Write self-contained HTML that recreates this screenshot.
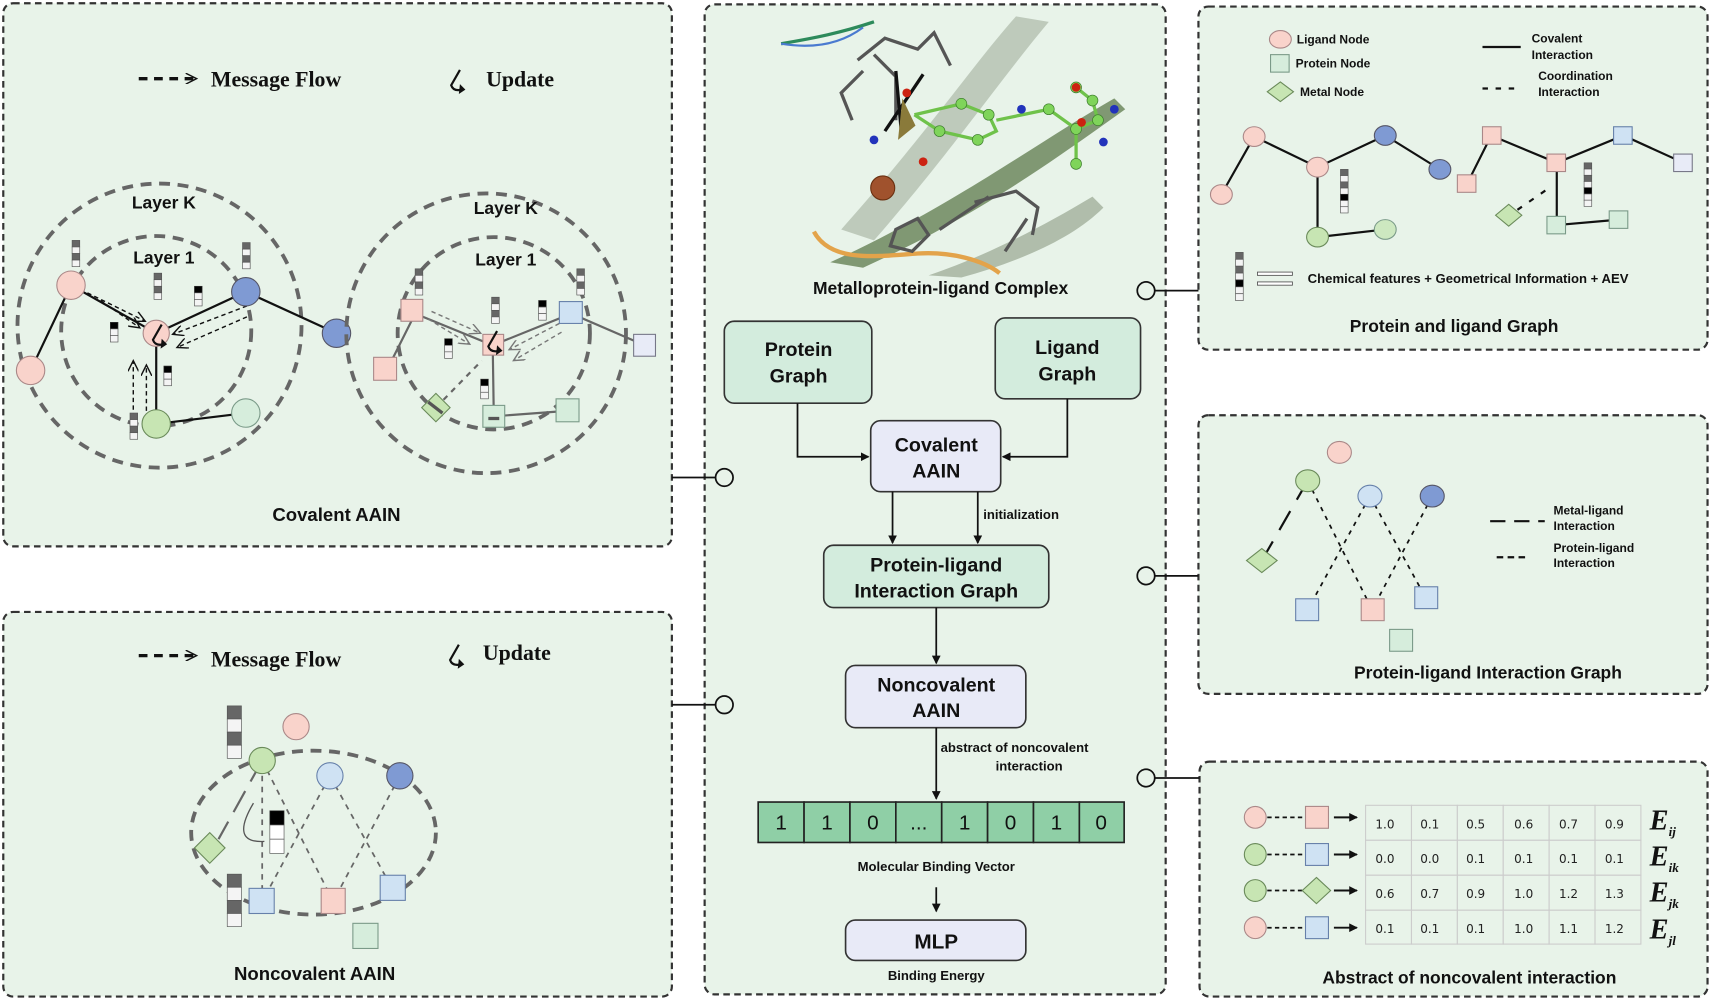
<!DOCTYPE html>
<html><head><meta charset="utf-8"><style>
html,body{margin:0;padding:0;background:#fff;}
svg{display:block;}
.pn{fill:#e8f3e9;stroke:#333;stroke-width:2;stroke-dasharray:6 4;}
.sans{font-family:"Liberation Sans",sans-serif;font-weight:bold;fill:#111;}
.serif{font-family:"Liberation Serif",serif;font-weight:bold;fill:#111;}
.box{stroke:#333;stroke-width:1.5;}
.e{stroke:#111;stroke-width:2;fill:none;}
.ge{stroke:#666;stroke-width:2;fill:none;}
.dc{stroke:#666;stroke-width:3.5;stroke-dasharray:10 7;fill:none;}
.pk{fill:#f9d3cb;stroke:#a88;stroke-width:1;}
.gr{fill:#c7e5b3;stroke:#6a8a5a;stroke-width:1;}
.bl{fill:#7f9ad3;stroke:#556;stroke-width:1;}
.lb{fill:#cfe2f3;stroke:#6680aa;stroke-width:1;}
.lg{fill:#d6eddc;stroke:#7a9a88;stroke-width:1;}
.lv{fill:#e8ebf7;stroke:#778;stroke-width:1;}
.fd{fill:#666;stroke:#555;stroke-width:.6;}
.fw{fill:#f4f4f4;stroke:#555;stroke-width:.6;}
.fk{fill:#000;stroke:#333;stroke-width:.6;}
.tc{fill:#e8f3e9;stroke:#ccc;stroke-width:1;}
.tt{font-family:"DejaVu Sans","Liberation Sans",sans-serif;font-size:11px;fill:#222;}
</style></head><body>
<svg width="1713" height="1002" viewBox="0 0 1568 917" preserveAspectRatio="none" xmlns="http://www.w3.org/2000/svg">
<defs>
<marker id="ah" markerWidth="8" markerHeight="8" refX="7" refY="4" orient="auto" markerUnits="userSpaceOnUse"><path d="M0,0 L8,4 L0,8 z" fill="#111"/></marker>
<marker id="oa" markerWidth="12" markerHeight="10" refX="10" refY="5" orient="auto" markerUnits="userSpaceOnUse"><path d="M0,0 L10,5 L0,10" fill="none" stroke="#111" stroke-width="1.3"/></marker>
<marker id="og" markerWidth="12" markerHeight="10" refX="10" refY="5" orient="auto" markerUnits="userSpaceOnUse"><path d="M0,0 L10,5 L0,10" fill="none" stroke="#777" stroke-width="1.3"/></marker>
<g id="fb4"><rect x="0" y="0" width="7" height="6" class="fd"/><rect x="0" y="6" width="7" height="6" class="fw"/><rect x="0" y="12" width="7" height="6" class="fd"/><rect x="0" y="18" width="7" height="6" class="fw"/></g>
<g id="fb3"><rect x="0" y="0" width="7" height="6" class="fk"/><rect x="0" y="6" width="7" height="6" class="fw"/><rect x="0" y="12" width="7" height="6" class="fw"/></g>
<g id="upd"><path d="M8,-10 L0,4 Q2,10 10,8" fill="none" stroke="#111" stroke-width="2"/><path d="M8,3 L13,8 L7,12 z" fill="#111"/></g>
</defs>

<!-- panels -->
<rect class="pn" x="3" y="3" width="612" height="497" rx="9"/>
<rect class="pn" x="3" y="560" width="612" height="352" rx="9"/>
<rect class="pn" x="645" y="4" width="422" height="906" rx="9"/>
<rect class="pn" x="1097" y="6" width="466" height="314" rx="9"/>
<rect class="pn" x="1097" y="380" width="466" height="255" rx="9"/>
<rect class="pn" x="1098" y="697" width="465" height="215" rx="9"/>

<!-- connectors -->
<g stroke="#111" stroke-width="1.6" fill="#e8f3e9">
<line x1="615" y1="437" x2="655" y2="437"/><circle cx="663" cy="437" r="8"/>
<line x1="615" y1="645" x2="655" y2="645"/><circle cx="663" cy="645" r="8"/>
<line x1="1057" y1="266" x2="1097" y2="266"/><circle cx="1049" cy="266" r="8"/>
<line x1="1057" y1="527" x2="1097" y2="527"/><circle cx="1049" cy="527" r="8"/>
<line x1="1057" y1="712" x2="1098" y2="712"/><circle cx="1049" cy="712" r="8"/>
</g>

<!-- ===== Covalent AAIN panel ===== -->
<line x1="127" y1="72" x2="180" y2="72" stroke="#111" stroke-width="3" stroke-dasharray="8 6" marker-end="url(#oa)"/>
<text class="serif" x="193" y="79" font-size="20">Message  Flow</text>
<use href="#upd" x="413" y="74"/>
<text class="serif" x="445" y="79" font-size="20">Update</text>

<circle class="dc" cx="146" cy="298" r="130"/>
<circle class="dc" cx="143" cy="303" r="87"/>
<text class="sans" x="150" y="191" font-size="16" text-anchor="middle">Layer K</text>
<text class="sans" x="150" y="241" font-size="16" text-anchor="middle">Layer 1</text>
<g class="e"><polyline points="28,339 65,261 143,305 225,267 308,305"/><line x1="143" y1="305" x2="143" y2="388"/><line x1="143" y1="388" x2="225" y2="378"/></g>
<g stroke="#111" stroke-width="1.3" stroke-dasharray="4 3" fill="none">
<line x1="80" y1="268" x2="133" y2="294" marker-end="url(#oa)"/>
<line x1="92" y1="275" x2="128" y2="300" marker-end="url(#oa)"/>
<line x1="226" y1="280" x2="158" y2="306" marker-end="url(#oa)"/>
<line x1="226" y1="290" x2="162" y2="318" marker-end="url(#oa)"/>
<line x1="122" y1="396" x2="122" y2="330" marker-end="url(#oa)"/>
<line x1="134" y1="376" x2="134" y2="334" marker-end="url(#oa)"/>
</g>
<circle class="pk" cx="28" cy="339" r="13"/><circle class="pk" cx="65" cy="261" r="13"/>
<circle class="pk" cx="143" cy="305" r="12"/><use href="#upd" x="140" y="307" transform="scale(1)"/>
<circle class="bl" cx="225" cy="267" r="13"/><circle class="bl" cx="308" cy="305" r="13"/>
<circle class="gr" cx="143" cy="388" r="13"/><circle class="lg" cx="225" cy="378" r="13"/>
<use href="#fb4" x="66" y="220"/><use href="#fb4" x="222" y="222"/><use href="#fb4" x="141" y="250"/>
<use href="#fb3" x="178" y="262"/><use href="#fb3" x="101" y="295"/><use href="#fb3" x="150" y="335"/><use href="#fb4" x="119" y="378"/>

<circle class="dc" cx="445" cy="305" r="128"/>
<circle class="dc" cx="452" cy="305" r="88"/>
<text class="sans" x="463" y="196" font-size="16" text-anchor="middle">Layer K</text>
<text class="sans" x="463" y="243" font-size="16" text-anchor="middle">Layer 1</text>
<g class="ge"><polyline points="354,339 380,287 451,316 523,287 590,316"/><line x1="451" y1="316" x2="452" y2="381"/><line x1="452" y1="381" x2="519" y2="376"/><line x1="399" y1="373" x2="441" y2="330" stroke-dasharray="5 5"/></g>
<g stroke="#777" stroke-width="1.3" stroke-dasharray="4 3" fill="none">
<line x1="395" y1="285" x2="440" y2="305" marker-end="url(#og)"/>
<line x1="392" y1="292" x2="430" y2="315" marker-end="url(#og)"/>
<line x1="512" y1="296" x2="466" y2="320" marker-end="url(#og)"/>
<line x1="514" y1="304" x2="470" y2="330" marker-end="url(#og)"/>
</g>
<rect class="pk" x="367" y="274" width="20" height="20"/><rect class="pk" x="342" y="327" width="21" height="21"/>
<rect class="pk" x="442" y="306" width="19" height="19"/><use href="#upd" x="447" y="313"/>
<rect class="lb" x="512" y="276" width="21" height="20"/><rect class="lv" x="580" y="306" width="20" height="20"/>
<rect class="lg" x="442" y="371" width="20" height="20"/><rect class="lg" x="509" y="365" width="21" height="21"/>
<path class="gr" d="M399,360 L412,373 L399,386 L386,373 z"/>
<line x1="392" y1="368" x2="405" y2="378" stroke="#555" stroke-width="3"/>
<line x1="447" y1="383" x2="457" y2="383" stroke="#555" stroke-width="3"/>
<use href="#fb4" x="380" y="246"/><use href="#fb4" x="528" y="246"/><use href="#fb4" x="450" y="272"/>
<use href="#fb3" x="493" y="275"/><use href="#fb3" x="407" y="310"/><use href="#fb3" x="440" y="347"/>
<text class="sans" x="308" y="477" font-size="17" text-anchor="middle">Covalent  AAIN</text>

<!-- ===== Noncovalent AAIN panel ===== -->
<line x1="127" y1="600" x2="180" y2="600" stroke="#111" stroke-width="3" stroke-dasharray="8 6" marker-end="url(#oa)"/>
<text class="serif" x="193" y="610" font-size="20">Message  Flow</text>
<use href="#upd" x="412" y="600"/>
<text class="serif" x="442" y="604" font-size="20">Update</text>
<ellipse class="dc" cx="287" cy="762" rx="112" ry="75"/>
<g stroke="#666" stroke-width="1.6" stroke-dasharray="5 5" fill="none">
<line x1="240" y1="696" x2="305" y2="825"/><line x1="302" y1="710" x2="240" y2="825"/><line x1="302" y1="710" x2="359" y2="813"/><line x1="366" y1="710" x2="305" y2="825"/>
<line x1="240" y1="700" x2="240" y2="823"/>
</g>
<line x1="240" y1="696" x2="200" y2="768" stroke="#666" stroke-width="2" stroke-dasharray="22 10"/>
<path d="M232,735 Q210,772 242,770" stroke="#555" stroke-width="1.2" fill="none"/>
<circle class="pk" cx="271" cy="665" r="12"/><circle class="gr" cx="240" cy="696" r="12"/>
<circle class="lb" cx="302" cy="710" r="12"/><circle class="bl" cx="366" cy="710" r="12"/>
<path class="gr" d="M192,762 L206,776 L192,790 L178,776 z"/>
<rect class="lb" x="228" y="813" width="23" height="23"/><rect class="pk" x="294" y="813" width="22" height="23"/>
<rect class="lb" x="348" y="801" width="23" height="23"/><rect class="lg" x="323" y="845" width="23" height="23"/>
<g><rect x="208" y="646" width="13" height="12" class="fd"/><rect x="208" y="658" width="13" height="12" class="fw"/><rect x="208" y="670" width="13" height="12" class="fd"/><rect x="208" y="682" width="13" height="12" class="fw"/>
<rect x="208" y="800" width="13" height="12" class="fd"/><rect x="208" y="812" width="13" height="12" class="fw"/><rect x="208" y="824" width="13" height="12" class="fd"/><rect x="208" y="836" width="13" height="12" class="fw"/>
<rect x="247" y="742" width="13" height="13" class="fk"/><rect x="247" y="755" width="13" height="13" fill="#fff" stroke="#555" stroke-width=".6"/><rect x="247" y="768" width="13" height="13" fill="#fff" stroke="#555" stroke-width=".6"/></g>
<text class="sans" x="288" y="897" font-size="17" text-anchor="middle" font-weight="normal" style="font-family:'Liberation Sans Narrow','Liberation Sans',sans-serif">Noncovalent  AAIN</text>

<!-- ===== Middle panel ===== -->
<g>
<path d="M930,15 C890,60 850,120 770,210 L800,220 C870,140 910,80 960,20 z" fill="#9aa895" opacity=".55"/>
<path d="M1020,90 C950,130 870,190 760,240 L790,245 C890,200 960,150 1030,100 z" fill="#5d7a4b" opacity=".75"/>
<path d="M1000,180 C950,210 900,235 850,252 L880,254 C930,240 980,220 1010,190 z" fill="#8a9a82" opacity=".6"/>
<path d="M745,212 C760,240 800,235 840,232 C870,230 900,238 915,250" stroke="#e3a34a" stroke-width="4" fill="none"/>
<g stroke="#555" stroke-width="3" fill="none">
<polyline points="785,55 810,35 840,45 855,30 870,60"/><polyline points="800,50 820,70 820,110"/><polyline points="790,65 770,85 780,110"/>
<polyline points="892,185 930,175 950,190 945,215"/><polyline points="860,210 905,180"/><polyline points="920,230 940,200"/>
<polygon points="820,210 840,200 850,215 835,230 815,225"/>
</g>
<g stroke="#111" stroke-width="3"><line x1="845" y1="68" x2="810" y2="120"/><line x1="820" y1="65" x2="825" y2="120"/></g>
<path d="M715,40 C745,35 770,30 800,20" stroke="#2d8a5b" stroke-width="3" fill="none"/>
<path d="M715,40 C745,45 770,40 790,25" stroke="#4a7ad0" stroke-width="2" fill="none"/>
<g stroke="#6fc24a" stroke-width="3" fill="none"><polyline points="837,105 880,95 905,105 912,120 895,128 860,120 837,105"/><polyline points="912,110 960,100 985,118 1005,110 1000,92 985,80"/><polyline points="985,118 985,150"/></g>
<g fill="#7fd45a" stroke="#3a7a2a" stroke-width=".6"><circle cx="880" cy="95" r="5"/><circle cx="905" cy="105" r="5"/><circle cx="860" cy="120" r="5"/><circle cx="895" cy="128" r="5"/><circle cx="960" cy="100" r="5"/><circle cx="985" cy="118" r="5"/><circle cx="1005" cy="110" r="5"/><circle cx="1000" cy="92" r="5"/><circle cx="985" cy="80" r="5"/><circle cx="985" cy="150" r="5"/></g>
<g fill="#2233bb"><circle cx="935" cy="100" r="4"/><circle cx="1010" cy="130" r="4"/><circle cx="1020" cy="100" r="4"/><circle cx="800" cy="128" r="4"/></g>
<g fill="#cc2211"><circle cx="830" cy="85" r="4"/><circle cx="845" cy="148" r="4"/><circle cx="985" cy="80" r="4"/><circle cx="990" cy="112" r="4"/></g>
<circle cx="808" cy="172" r="11" fill="#a0522d" stroke="#6a3010"/>
<path d="M826,90 L838,115 L822,128 z" fill="#8a7a3a"/>
</g>
<text class="sans" x="861" y="269" font-size="16" text-anchor="middle">Metalloprotein-ligand Complex</text>

<rect class="box" x="663" y="294" width="135" height="75" rx="9" fill="#d3ecdd"/>
<text class="sans" x="731" y="326" font-size="18" text-anchor="middle">Protein</text>
<text class="sans" x="731" y="350" font-size="18" text-anchor="middle">Graph</text>
<rect class="box" x="911" y="291" width="133" height="74" rx="9" fill="#d3ecdd"/>
<text class="sans" x="977" y="324" font-size="18" text-anchor="middle">Ligand</text>
<text class="sans" x="977" y="348" font-size="18" text-anchor="middle">Graph</text>
<rect class="box" x="797" y="385" width="119" height="65" rx="9" fill="#e8eaf7"/>
<text class="sans" x="857" y="413" font-size="18" text-anchor="middle">Covalent</text>
<text class="sans" x="857" y="437" font-size="18" text-anchor="middle">AAIN</text>
<rect class="box" x="754" y="499" width="206" height="57" rx="9" fill="#d3ecdd"/>
<text class="sans" x="857" y="523" font-size="18" text-anchor="middle">Protein-ligand</text>
<text class="sans" x="857" y="547" font-size="18" text-anchor="middle">Interaction Graph</text>
<rect class="box" x="774" y="609" width="165" height="57" rx="9" fill="#e8eaf7"/>
<text class="sans" x="857" y="633" font-size="18" text-anchor="middle">Noncovalent</text>
<text class="sans" x="857" y="656" font-size="18" text-anchor="middle">AAIN</text>
<g stroke="#111" stroke-width="1.6" fill="none">
<polyline points="730,369 730,418 795,418" marker-end="url(#ah)"/>
<polyline points="977,365 977,418 918,418" marker-end="url(#ah)"/>
<line x1="817" y1="450" x2="817" y2="497" marker-end="url(#ah)"/>
<line x1="895" y1="450" x2="895" y2="497" marker-end="url(#ah)"/>
<line x1="857" y1="556" x2="857" y2="607" marker-end="url(#ah)"/>
<line x1="857" y1="666" x2="857" y2="731" marker-end="url(#ah)"/>
<line x1="857" y1="812" x2="857" y2="834" marker-end="url(#ah)"/>
</g>
<text class="sans" x="900" y="475" font-size="12">initialization</text>
<text class="sans" x="861" y="688" font-size="12">abstract of noncovalent</text>
<text class="sans" x="942" y="705" font-size="12" text-anchor="middle">interaction</text>
<g stroke="#222" stroke-width="1.5" fill="#8fcfa6">
<rect x="694" y="734" width="42" height="37"/><rect x="736" y="734" width="42" height="37"/><rect x="778" y="734" width="42" height="37"/><rect x="820" y="734" width="42" height="37"/><rect x="862" y="734" width="42" height="37"/><rect x="904" y="734" width="42" height="37"/><rect x="946" y="734" width="42" height="37"/><rect x="988" y="734" width="41" height="37"/>
</g>
<g font-family="'Liberation Sans',sans-serif" font-size="19" fill="#111" text-anchor="middle">
<text x="715" y="759">1</text><text x="757" y="759">1</text><text x="799" y="759">0</text><text x="841" y="759">...</text><text x="883" y="759">1</text><text x="925" y="759">0</text><text x="967" y="759">1</text><text x="1008" y="759">0</text>
</g>
<text class="sans" x="857" y="797" font-size="12" text-anchor="middle">Molecular Binding Vector</text>
<rect class="box" x="774" y="842" width="165" height="37" rx="9" fill="#e8eaf7"/>
<text class="sans" x="857" y="868" font-size="19" text-anchor="middle">MLP</text>
<text class="sans" x="857" y="897" font-size="12" text-anchor="middle">Binding Energy</text>

<!-- ===== Protein and ligand graph panel ===== -->
<ellipse class="pk" cx="1172" cy="36" rx="10" ry="8"/>
<text class="sans" x="1187" y="40" font-size="11">Ligand Node</text>
<rect class="lg" x="1163" y="50" width="17" height="16"/>
<text class="sans" x="1186" y="62" font-size="11">Protein Node</text>
<path class="gr" d="M1172,75 L1184,84 L1172,93 L1160,84 z"/>
<text class="sans" x="1190" y="88" font-size="11">Metal Node</text>
<line x1="1357" y1="43" x2="1392" y2="43" stroke="#111" stroke-width="2"/>
<text class="sans" x="1402" y="39" font-size="11">Covalent</text>
<text class="sans" x="1402" y="54" font-size="11">Interaction</text>
<line x1="1357" y1="81" x2="1392" y2="81" stroke="#111" stroke-width="2" stroke-dasharray="5 7"/>
<text class="sans" x="1408" y="73" font-size="11">Coordination</text>
<text class="sans" x="1408" y="88" font-size="11">Interaction</text>
<g class="e"><polyline points="1118,178 1148,125 1206,153 1268,124 1318,155"/><line x1="1206" y1="153" x2="1206" y2="217"/><line x1="1206" y1="217" x2="1268" y2="210"/>
<polyline points="1343,168 1365,124 1425,149 1486,124 1541,149"/><line x1="1425" y1="149" x2="1425" y2="206"/><line x1="1425" y1="206" x2="1482" y2="201"/>
<line x1="1389" y1="192" x2="1418" y2="172" stroke-dasharray="5 8"/></g>
<ellipse class="pk" cx="1118" cy="178" rx="10" ry="9"/><ellipse class="pk" cx="1148" cy="125" rx="10" ry="9"/>
<ellipse class="pk" cx="1206" cy="153" rx="10" ry="9"/><ellipse class="bl" cx="1268" cy="124" rx="10" ry="9"/>
<ellipse class="bl" cx="1318" cy="155" rx="10" ry="9"/><ellipse class="gr" cx="1206" cy="217" rx="10" ry="9"/>
<ellipse class="lg" cx="1268" cy="210" rx="10" ry="9" style="fill:#cde8c0"/>
<rect class="pk" x="1334" y="160" width="17" height="16"/><rect class="pk" x="1357" y="116" width="17" height="16"/>
<rect class="pk" x="1416" y="141" width="17" height="16"/><rect class="lb" x="1477" y="116" width="17" height="16"/>
<rect class="lv" x="1532" y="141" width="17" height="16"/><rect class="lg" x="1416" y="198" width="17" height="16"/>
<rect class="lg" x="1473" y="193" width="17" height="16"/><path class="gr" d="M1381,187 L1393,197 L1381,207 L1369,197 z"/>
<g transform="translate(1227,155) scale(1,.95)"><rect x="0" y="0" width="7" height="6" class="fd"/><rect x="0" y="6" width="7" height="6" class="fw"/><rect x="0" y="12" width="7" height="6" class="fd"/><rect x="0" y="18" width="7" height="6" class="fw"/><rect x="0" y="24" width="7" height="6" class="fk"/><rect x="0" y="30" width="7" height="6" class="fw"/><rect x="0" y="36" width="7" height="6" class="fw"/></g>
<g transform="translate(1450,149) scale(1,.95)"><rect x="0" y="0" width="7" height="6" class="fd"/><rect x="0" y="6" width="7" height="6" class="fw"/><rect x="0" y="12" width="7" height="6" class="fd"/><rect x="0" y="18" width="7" height="6" class="fw"/><rect x="0" y="24" width="7" height="6" class="fk"/><rect x="0" y="30" width="7" height="6" class="fw"/><rect x="0" y="36" width="7" height="6" class="fw"/></g>
<g transform="translate(1131,231) scale(1,1.05)"><rect x="0" y="0" width="7" height="6" class="fd"/><rect x="0" y="6" width="7" height="6" class="fw"/><rect x="0" y="12" width="7" height="6" class="fd"/><rect x="0" y="18" width="7" height="6" class="fw"/><rect x="0" y="24" width="7" height="6" class="fk"/><rect x="0" y="30" width="7" height="6" class="fw"/><rect x="0" y="36" width="7" height="6" class="fw"/></g>
<rect x="1151" y="249" width="32" height="3" fill="#fff" stroke="#555" stroke-width=".8"/>
<rect x="1151" y="258" width="32" height="3" fill="#fff" stroke="#555" stroke-width=".8"/>
<text class="sans" x="1197" y="259" font-size="12">Chemical features + Geometrical Information + AEV</text>
<text class="sans" x="1331" y="304" font-size="16" text-anchor="middle">Protein and ligand Graph</text>

<!-- ===== Protein-ligand Interaction Graph panel ===== -->
<g stroke="#111" stroke-width="1.6" stroke-dasharray="4 5" fill="none">
<line x1="1197" y1="440" x2="1256" y2="558"/><line x1="1254" y1="454" x2="1197" y2="558"/><line x1="1254" y1="454" x2="1305" y2="547"/><line x1="1311" y1="454" x2="1256" y2="558"/>
</g>
<line x1="1197" y1="440" x2="1155" y2="513" stroke="#111" stroke-width="2" stroke-dasharray="20 12"/>
<ellipse class="pk" cx="1226" cy="414" rx="11" ry="10"/><ellipse class="gr" cx="1197" cy="440" rx="11" ry="10"/>
<ellipse class="lb" cx="1254" cy="454" rx="11" ry="10"/><ellipse class="bl" cx="1311" cy="454" rx="11" ry="10"/>
<path class="gr" d="M1155,502 L1169,513 L1155,524 L1141,513 z"/>
<rect class="lb" x="1186" y="548" width="21" height="20"/><rect class="pk" x="1246" y="548" width="21" height="20"/>
<rect class="lb" x="1295" y="537" width="21" height="20"/><rect class="lg" x="1272" y="576" width="21" height="20"/>
<line x1="1364" y1="477" x2="1414" y2="477" stroke="#111" stroke-width="2" stroke-dasharray="14 8"/>
<text class="sans" x="1422" y="471" font-size="11">Metal-ligand</text>
<text class="sans" x="1422" y="485" font-size="11">Interaction</text>
<line x1="1370" y1="510" x2="1399" y2="510" stroke="#111" stroke-width="2" stroke-dasharray="6 4"/>
<text class="sans" x="1422" y="505" font-size="11">Protein-ligand</text>
<text class="sans" x="1422" y="519" font-size="11">Interaction</text>
<text class="sans" x="1362" y="621" font-size="16" text-anchor="middle">Protein-ligand Interaction Graph</text>

<!-- ===== Abstract of noncovalent interaction panel ===== -->
<g stroke="#111" stroke-width="1.6" stroke-dasharray="4 3"><line x1="1153" y1="748" x2="1196" y2="748"/><line x1="1153" y1="782" x2="1196" y2="782"/><line x1="1153" y1="815" x2="1194" y2="815"/><line x1="1153" y1="849" x2="1196" y2="849"/></g>
<ellipse class="pk" cx="1149" cy="748" rx="10" ry="10"/><ellipse class="gr" cx="1149" cy="782" rx="10" ry="10"/>
<ellipse class="gr" cx="1149" cy="815" rx="10" ry="10"/><ellipse class="pk" cx="1149" cy="849" rx="10" ry="10"/>
<rect class="pk" x="1195" y="738" width="21" height="20"/><rect class="lb" x="1195" y="772" width="21" height="20"/>
<path class="gr" d="M1205,803 L1218,815 L1205,827 L1192,815 z"/><rect class="lb" x="1195" y="839" width="21" height="20"/>
<g stroke="#111" stroke-width="1.8"><line x1="1221" y1="748" x2="1242" y2="748" marker-end="url(#ah)"/><line x1="1221" y1="782" x2="1242" y2="782" marker-end="url(#ah)"/><line x1="1221" y1="815" x2="1242" y2="815" marker-end="url(#ah)"/><line x1="1221" y1="849" x2="1242" y2="849" marker-end="url(#ah)"/></g>
<g>
<rect class="tc" x="1250" y="737" width="42" height="32"/><rect class="tc" x="1292" y="737" width="42" height="32"/><rect class="tc" x="1334" y="737" width="42" height="32"/><rect class="tc" x="1376" y="737" width="42" height="32"/><rect class="tc" x="1418" y="737" width="42" height="32"/><rect class="tc" x="1460" y="737" width="42" height="32"/>
<rect class="tc" x="1250" y="769" width="42" height="32"/><rect class="tc" x="1292" y="769" width="42" height="32"/><rect class="tc" x="1334" y="769" width="42" height="32"/><rect class="tc" x="1376" y="769" width="42" height="32"/><rect class="tc" x="1418" y="769" width="42" height="32"/><rect class="tc" x="1460" y="769" width="42" height="32"/>
<rect class="tc" x="1250" y="801" width="42" height="32"/><rect class="tc" x="1292" y="801" width="42" height="32"/><rect class="tc" x="1334" y="801" width="42" height="32"/><rect class="tc" x="1376" y="801" width="42" height="32"/><rect class="tc" x="1418" y="801" width="42" height="32"/><rect class="tc" x="1460" y="801" width="42" height="32"/>
<rect class="tc" x="1250" y="833" width="42" height="31"/><rect class="tc" x="1292" y="833" width="42" height="31"/><rect class="tc" x="1334" y="833" width="42" height="31"/><rect class="tc" x="1376" y="833" width="42" height="31"/><rect class="tc" x="1418" y="833" width="42" height="31"/><rect class="tc" x="1460" y="833" width="42" height="31"/>
</g>
<g class="tt">
<text x="1259" y="758">1.0</text><text x="1300" y="758">0.1</text><text x="1342" y="758">0.5</text><text x="1386" y="758">0.6</text><text x="1427" y="758">0.7</text><text x="1469" y="758">0.9</text>
<text x="1259" y="790">0.0</text><text x="1300" y="790">0.0</text><text x="1342" y="790">0.1</text><text x="1386" y="790">0.1</text><text x="1427" y="790">0.1</text><text x="1469" y="790">0.1</text>
<text x="1259" y="822">0.6</text><text x="1300" y="822">0.7</text><text x="1342" y="822">0.9</text><text x="1386" y="822">1.0</text><text x="1427" y="822">1.2</text><text x="1469" y="822">1.3</text>
<text x="1259" y="854">0.1</text><text x="1300" y="854">0.1</text><text x="1342" y="854">0.1</text><text x="1386" y="854">1.0</text><text x="1427" y="854">1.1</text><text x="1469" y="854">1.2</text>
</g>
<g font-family="'Liberation Serif',serif" font-weight="bold" font-style="italic" fill="#111">
<text x="1510" y="759" font-size="26">E<tspan font-size="12" dy="6">ij</tspan></text>
<text x="1510" y="792" font-size="26">E<tspan font-size="12" dy="6">ik</tspan></text>
<text x="1510" y="825" font-size="26">E<tspan font-size="12" dy="6">jk</tspan></text>
<text x="1510" y="859" font-size="26">E<tspan font-size="12" dy="6">jl</tspan></text>
</g>
<text class="sans" x="1345" y="900" font-size="16" text-anchor="middle">Abstract of noncovalent interaction</text>
</svg>
</body></html>
